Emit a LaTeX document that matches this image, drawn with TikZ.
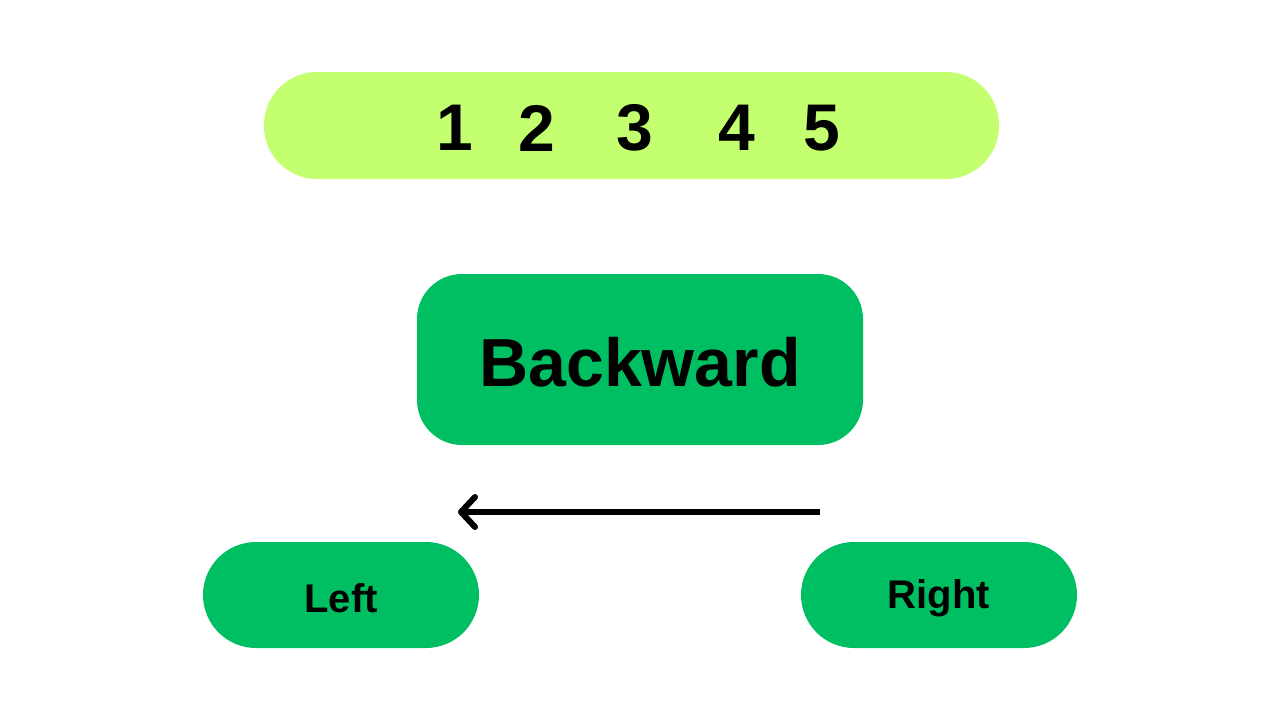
\documentclass[tikz,border=0pt]{standalone}
\usepackage{fontspec}
\setmainfont{Liberation Sans}
\usetikzlibrary{arrows.meta}
\definecolor{lime}{HTML}{C3FF6E}
\definecolor{grn}{HTML}{00BF63}
\begin{document}
\begin{tikzpicture}[x=1pt,y=-1pt,
  num/.style={font=\fontsize{66}{70}\selectfont\bfseries,anchor=center},
  lbl/.style={font=\fontsize{40}{44}\selectfont\bfseries,anchor=center}]
\useasboundingbox[fill=white] (0,0) rectangle (1280,720);
\fill[lime,rounded corners=53] (264,72) rectangle (999,179);
\node[num] (n1) at (455,128) {1};
\node[num] (n2) at (537,128) {2};
\node[num] (n3) at (635,128) {3};
\node[num] (n4) at (737,128) {4};
\node[num] (n5) at (822,128) {5};
\fill[grn,rounded corners=45] (417,274) rectangle (863,445);
\node[font=\fontsize{68}{72}\selectfont\bfseries] (bw) at (640,362) {Backward};
\fill[grn,rounded corners=53] (203,542) rectangle (479,648);
\node[lbl] (left) at (341,598) {Left};
\fill[grn,rounded corners=53] (801,542) rectangle (1077,648);
\node[lbl] (right) at (939,598) {Right};
\coordinate (as) at (820,512);
\coordinate (ae) at (458,512);
\draw[line width=6,-{Straight Barb[length=14,width=30,line cap=round,line join=round]}] (as) -- (ae);
\end{tikzpicture}
\end{document}
